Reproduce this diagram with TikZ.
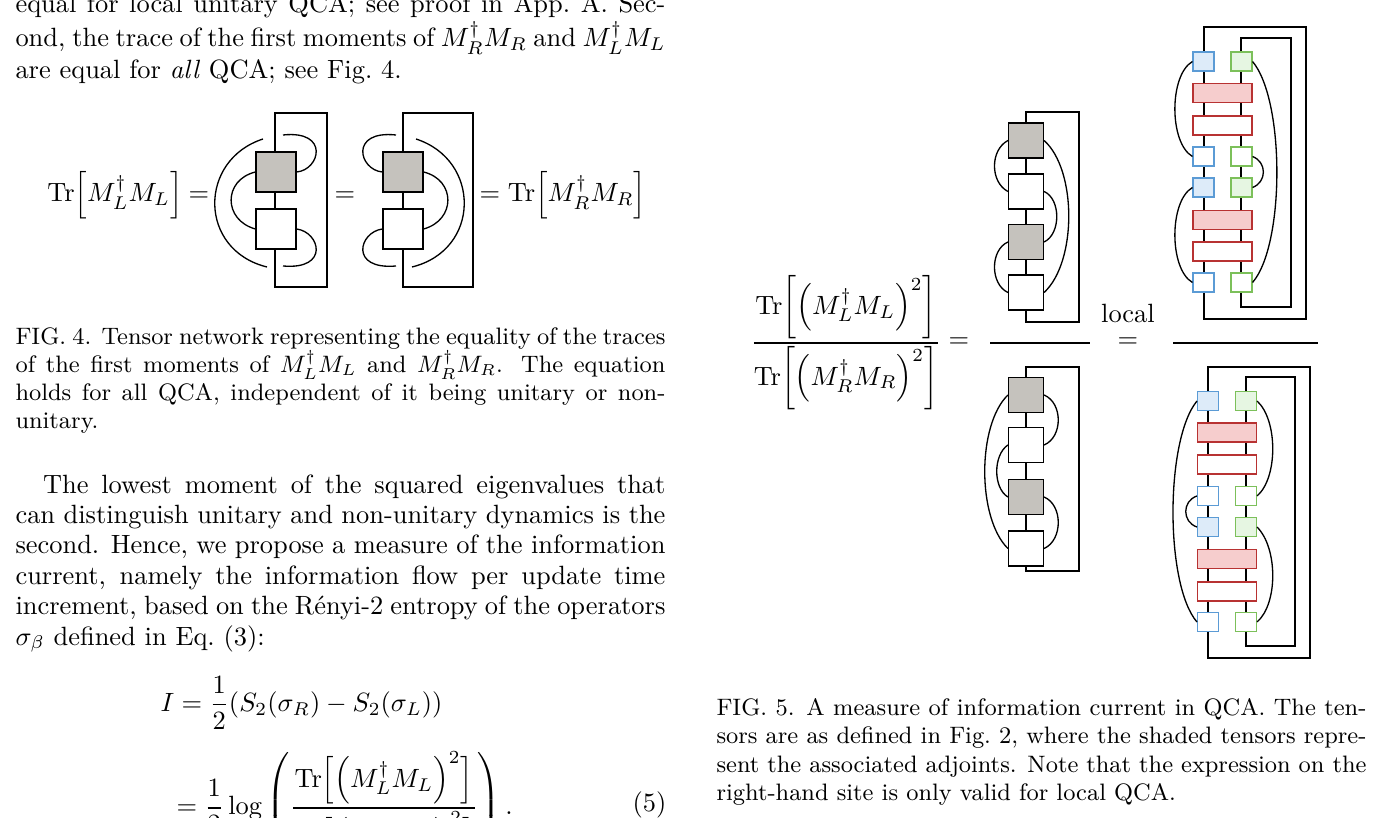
\documentclass[tikz,border=0pt]{standalone}
\usepackage{amsmath}
\definecolor{gfill}{HTML}{C5C2BD}
\definecolor{bdraw}{HTML}{5B9BD5}
\definecolor{bfill}{HTML}{DDEBF9}
\definecolor{grdraw}{HTML}{7CC05A}
\definecolor{grfill}{HTML}{E6F6E2}
\definecolor{rdraw}{HTML}{B83232}
\definecolor{rfill}{HTML}{F6CDCD}
\newcommand{\jl}[1]{\makebox[246pt][s]{#1}}
\begin{document}
\begin{tikzpicture}[x=0.3785pt,y=-0.3785pt,
  frame/.style={draw=black,line width=1pt},
  wire/.style={draw=black,line width=0.5pt},
  bigbox/.style={draw=black,line width=0.5pt,minimum width=15.1pt,minimum height=15.1pt,inner sep=0pt},
  midbox/.style={draw=black,line width=0.5pt,minimum width=13.2pt,minimum height=13.2pt,inner sep=0pt},
  adj/.style={fill=gfill},
  plain/.style={fill=white},
  bbox/.style={draw=bdraw,line width=0.45pt,minimum width=7.9pt,minimum height=7.2pt,inner sep=0pt},
  gbox/.style={draw=grdraw,line width=0.45pt,minimum width=7.9pt,minimum height=7.2pt,inner sep=0pt},
  rbox/.style={draw=rdraw,line width=0.45pt,minimum width=22.3pt,minimum height=7.2pt,inner sep=0pt},
  body/.style={anchor=base west,inner sep=0pt,font=\fontsize{10}{11.5}\selectfont},
  captxt/.style={anchor=base west,inner sep=0pt,font=\fontsize{9}{10.6}\selectfont}]
\useasboundingbox (0,0) rectangle (1388,818);
% ---------- top text ----------
\node[body] (t1) at (15,13) {\jl{equal for local unitary QCA; see proof in App.~A. Sec-}};
\node[body] (t2) at (15,47) {\jl{ond, the trace of the first moments of $M_R^\dagger M_R$ and $M_L^\dagger M_L$}};
\node[body] (t3) at (15,79) {are equal for \emph{all} QCA; see Fig.~4.};
% ---------- Fig 4 equation ----------
\node (trl) at (115,195) {$\mathrm{Tr}\Big[M_L^\dagger M_L\Big]$};
\node (eq1) at (199,197) {$=$};
\node (eq2) at (345,197) {$=$};
\node (eq3) at (490,197) {$=$};
\node (trr) at (577,195) {$\mathrm{Tr}\Big[M_R^\dagger M_R\Big]$};
% diagram 1
\draw[frame] (275,113) rectangle (327,287);
\node[bigbox,adj] (ga) at (276,172) {};
\node[bigbox,plain] (wa) at (276,229) {};
\coordinate (a1) at (263,139); \coordinate (a2) at (267,267);
\coordinate (a3) at (283,135); \coordinate (a4) at (283,266);
\draw[wire] (a1) .. controls (198,160) and (198,250) .. (a2);
\draw[wire] (ga.west) .. controls (223,180) and (223,220) .. (wa.west);
\draw[wire] (a3) .. controls (330,130) and (320,170) .. (ga.east);
\draw[wire] (wa.east) .. controls (320,232) and (330,270) .. (a4);
% diagram 2
\draw[frame] (403,113) rectangle (473,287);
\node[bigbox,adj] (gb) at (403,172) {};
\node[bigbox,plain] (wb) at (403,229) {};
\coordinate (b1) at (416,139); \coordinate (b2) at (412,267);
\coordinate (b3) at (396,135); \coordinate (b4) at (396,266);
\draw[wire] (b1) .. controls (481,160) and (481,250) .. (b2);
\draw[wire] (gb.east) .. controls (456,180) and (456,220) .. (wb.east);
\draw[wire] (b3) .. controls (349,130) and (359,170) .. (gb.west);
\draw[wire] (wb.west) .. controls (359,232) and (349,270) .. (b4);
% ---------- Fig 4 caption ----------
\node[captxt] (c41) at (15,345) {\jl{FIG. 4. Tensor network representing the equality of the traces}};
\node[captxt] (c42) at (15,373) {\jl{of the first moments of $M_L^\dagger M_L$ and $M_R^\dagger M_R$. The equation}};
\node[captxt] (c43) at (15,401) {\jl{holds for all QCA, independent of it being unitary or non-}};
\node[captxt] (c44) at (15,429) {unitary.};
% ---------- body ----------
\node[body] (p1) at (15,494) {\jl{\hspace{10.4pt}The lowest moment of the squared eigenvalues that}};
\node[body] (p2) at (15,524) {\jl{can distinguish unitary and non-unitary dynamics is the}};
\node[body] (p3) at (15,554) {\jl{second. Hence, we propose a measure of the information}};
\node[body] (p4) at (15,585) {\jl{current, namely the information flow per update time}};
\node[body] (p5) at (15,615) {\jl{increment, based on the R\'enyi-2 entropy of the operators}};
\node[body] (p6) at (15,645) {$\sigma_\beta$ defined in Eq.~(3):};
% ---------- Eq 5 ----------
\node[anchor=west,inner sep=0pt] (e1) at (160,703) {$I = \dfrac{1}{2}(S_2(\sigma_R)-S_2(\sigma_L))$};
\node[anchor=west,inner sep=0pt] (e2) at (176,808) {$= \dfrac{1}{2}\log\left(\dfrac{\mathrm{Tr}\Big[\Big(M_L^\dagger M_L\Big)^2\Big]}{\mathrm{Tr}\Big[\Big(M_R^\dagger M_R\Big)^2\Big]}\right).$};
\node[anchor=base east,inner sep=0pt] (e5) at (667,811) {(5)};
% ---------- Fig 5 ----------
\node (fr) at (846,343) {$\dfrac{\mathrm{Tr}\bigg[\Big(M_L^\dagger M_L\Big)^2\bigg]}{\mathrm{Tr}\bigg[\Big(M_R^\dagger M_R\Big)^2\bigg]}$};
\node (eq4) at (959,343) {$=$};
\node (eq5) at (1128,343) {$=$};
\node (loc) at (1128,313) {local};
\coordinate (l1a) at (990,343); \coordinate (l1b) at (1090,343);
\coordinate (l2a) at (1173,343); \coordinate (l2b) at (1318,343);
\draw[line width=0.5pt] (l1a) -- (l1b);
\draw[line width=0.5pt] (l2a) -- (l2b);
% left top
\draw[frame] (1026,112) rectangle (1079,322);
\node[midbox,adj] (u1) at (1026,140.5) {};
\node[midbox,plain] (u2) at (1026,191.5) {};
\node[midbox,adj] (u3) at (1026,242) {};
\node[midbox,plain] (u4) at (1026,292.5) {};
\draw[wire] (u1.west) .. controls (990,150) and (990,182) .. (u2.west);
\draw[wire] (u3.west) .. controls (990,250) and (990,284) .. (u4.west);
\draw[wire] (u2.east) .. controls (1061,199) and (1061,234) .. (u3.east);
\draw[wire] (u1.east) .. controls (1077,170) and (1077,262) .. (u4.east);
% left bottom
\draw[frame] (1026,367) rectangle (1079,571);
\node[midbox,adj] (d1) at (1026,395) {};
\node[midbox,plain] (d2) at (1026,445) {};
\node[midbox,adj] (d3) at (1026,497) {};
\node[midbox,plain] (d4) at (1026,548.5) {};
\draw[wire] (d1.west) .. controls (977,425) and (977,518) .. (d4.west);
\draw[wire] (d2.west) .. controls (993,455) and (993,488) .. (d3.west);
\draw[wire] (d1.east) .. controls (1063,403) and (1063,437) .. (d2.east);
\draw[wire] (d3.east) .. controls (1063,505) and (1063,540) .. (d4.east);
% right top
\draw[wire,line width=0.6pt] (1204,27) rectangle (1306,319);
\draw[wire,line width=0.6pt] (1241,38) rectangle (1291,307);
\node[bbox,fill=bfill] (ta1) at (1203.5,61.5) {};
\node[gbox,fill=grfill] (tb1) at (1241.5,61.5) {};
\node[rbox,fill=rfill] (tr2) at (1222.5,93) {};
\node[rbox,fill=white] (tr3) at (1222.5,125.5) {};
\node[bbox,fill=white] (ta4) at (1203.5,156.5) {};
\node[gbox,fill=white] (tb4) at (1241.5,156.5) {};
\node[bbox,fill=bfill] (ta5) at (1203.5,187.5) {};
\node[gbox,fill=grfill] (tb5) at (1241.5,187.5) {};
\node[rbox,fill=rfill] (tr6) at (1222.5,220) {};
\node[rbox,fill=white] (tr7) at (1222.5,251.5) {};
\node[bbox,fill=white] (ta8) at (1203.5,282.5) {};
\node[gbox,fill=white] (tb8) at (1241.5,282.5) {};
\draw[wire] (ta1.west) .. controls (1169,75) and (1169,143) .. (ta4.west);
\draw[wire] (ta5.west) .. controls (1169,201) and (1169,269) .. (ta8.west);
\draw[wire] (tb4.east) .. controls (1267,162) and (1267,182) .. (tb5.east);
\draw[wire] (tb1.east) .. controls (1285,100) and (1285,245) .. (tb8.east);
% right bottom
\draw[wire,line width=0.6pt] (1208,367) rectangle (1310,658);
\draw[wire,line width=0.6pt] (1246,377) rectangle (1295,646);
\node[bbox,fill=bfill] (sa1) at (1208,401) {};
\node[gbox,fill=grfill] (sb1) at (1246,401) {};
\node[rbox,fill=rfill] (sr2) at (1227,432.5) {};
\node[rbox,fill=white] (sr3) at (1227,464.5) {};
\node[bbox,fill=white] (sa4) at (1208,496) {};
\node[gbox,fill=white] (sb4) at (1246,496) {};
\node[bbox,fill=bfill] (sa5) at (1208,527) {};
\node[gbox,fill=grfill] (sb5) at (1246,527) {};
\node[rbox,fill=rfill] (sr6) at (1227,559) {};
\node[rbox,fill=white] (sr7) at (1227,591.5) {};
\node[bbox,fill=white] (sa8) at (1208,622) {};
\node[gbox,fill=white] (sb8) at (1246,622) {};
\draw[wire] (sa1.west) .. controls (1165,440) and (1165,585) .. (sa8.west);
\draw[wire] (sa4.west) .. controls (1182,501) and (1182,522) .. (sa5.west);
\draw[wire] (sb1.east) .. controls (1278,420) and (1278,478) .. (sb4.east);
\draw[wire] (sb5.east) .. controls (1278,548) and (1278,604) .. (sb8.east);
% ---------- Fig 5 caption ----------
\node[captxt] (c51) at (716,715) {\jl{FIG. 5. A measure of information current in QCA. The ten-}};
\node[captxt] (c52) at (716,744) {\jl{sors are as defined in Fig.~2, where the shaded tensors repre-}};
\node[captxt] (c53) at (716,772) {\jl{sent the associated adjoints. Note that the expression on the}};
\node[captxt] (c54) at (716,800) {right-hand site is only valid for local QCA.};
\end{tikzpicture}
\end{document}
